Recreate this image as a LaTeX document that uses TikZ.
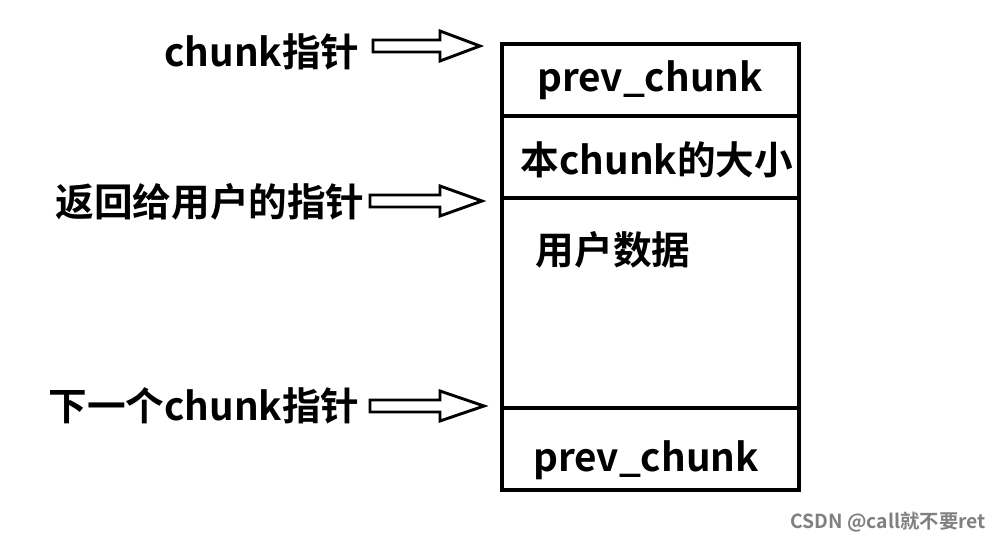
\documentclass[tikz,border=0pt]{standalone}
\usepackage{fontspec}
\newfontfamily\cjk{Noto Sans CJK SC Bold}
\begin{document}
\begin{tikzpicture}[x=0.02cm,y=-0.02cm,
  lbl/.style={font=\cjk\fontsize{22}{24}\selectfont,inner sep=0pt},
  box/.style={draw=black,line width=3pt*0.75},
  barrow/.style={draw=black,line width=2.2pt*0.75,fill=white}]
\useasboundingbox (0,0) rectangle (1001,541);
\newcommand{\blockarrow}[4]{% x0,x1,x2,y
  \draw[barrow] (#1,#4-6) -- (#2,#4-6) -- (#2,#4-15) -- (#3,#4) -- (#2,#4+15) -- (#2,#4+6) -- (#1,#4+6) -- cycle;}
\draw[box] (502,44) rectangle (799,490);
\draw[box] (502,116) -- (799,116);
\draw[box] (502,198) -- (799,198);
\draw[box] (502,408) -- (799,408);
\blockarrow{373}{440}{480}{46}
\blockarrow{370}{440}{482}{201}
\blockarrow{370}{440}{484}{406}
\node[lbl] (t1) at (262,52) {chunk指针};
\node[lbl] (t2) at (210,202) {返回给用户的指针};
\node[lbl] (t3) at (204,406) {下一个chunk指针};
\node[lbl] (b1) at (650,80) {prev\_chunk};
\node[lbl] (b2) at (657,160) {本chunk的大小};
\node[lbl] (b3) at (613,250) {用户数据};
\node[lbl] (b4) at (646,460) {prev\_chunk};
\node[inner sep=0pt,text=gray,font=\cjk\fontsize{11}{12}\selectfont,anchor=east] (wm) at (986,522) {CSDN @call就不要ret};
\end{tikzpicture}
\end{document}
